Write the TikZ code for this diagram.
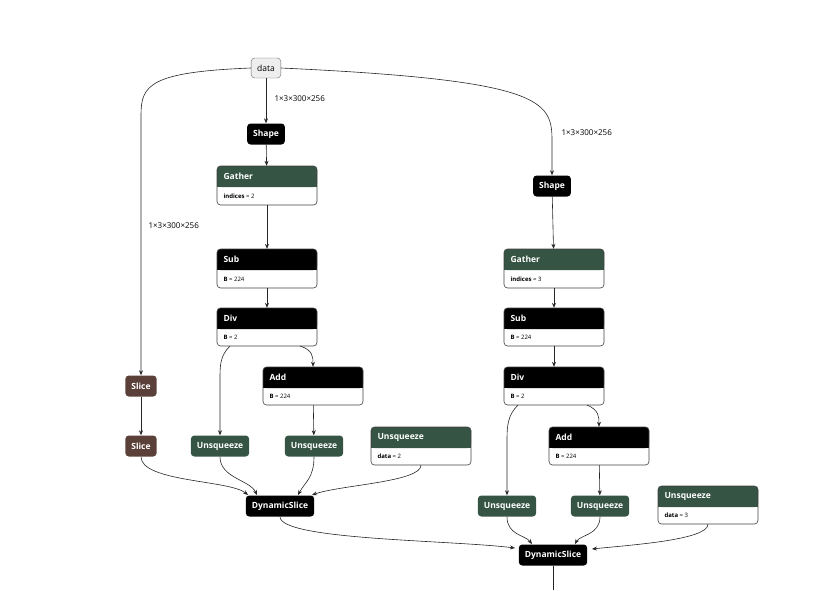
\documentclass[tikz,border=0pt]{standalone}
\usepackage{fontspec}
\setmainfont{Open Sans}
\usetikzlibrary{arrows.meta}
\definecolor{opgreen}{HTML}{355444}
\definecolor{opbrown}{HTML}{5A4038}
\definecolor{datagray}{HTML}{EEEEEE}
\tikzset{
  x=1pt,y=-1pt,
  edge/.style={-{Stealth[length=5pt,width=4pt]},line width=0.6pt,black!85},
  pill/.style={rounded corners=3.5pt,minimum height=21pt,inner xsep=6pt,text=white,font=\fontsize{8.5}{10}\selectfont\bfseries},
  blk/.style={pill,fill=black},
  grn/.style={pill,fill=opgreen},
  brn/.style={pill,fill=opbrown},
  lbl/.style={font=\fontsize{8}{10}\selectfont,anchor=west},
}
% \opbox{name}{cx}{ytop}{ybot}{color}{title}{attr}{val}
\newcommand{\opbox}[8]{%
  \node[minimum width=100pt,minimum height=#4-#3,inner sep=0pt] (#1) at (#2,{(#3+#4)/2}) {};
  \fill[#5,rounded corners=3.5pt] (#2-50,#3) rectangle (#2+50,#3+21);
  \fill[#5] (#2-50,#3+10) rectangle (#2+50,#3+21);
  \draw[black!75,rounded corners=3.5pt,line width=0.6pt] (#2-50,#3) rectangle (#2+50,#4);
  \node[anchor=west,text=white,font=\fontsize{8.5}{10}\selectfont\bfseries] at (#2-47,#3+10.5) {#6};
  \node[anchor=west,font=\fontsize{6}{7}\selectfont] at (#2-47,{(#3+21+#4)/2}) {\textbf{#7} = #8};
}
\begin{document}
\begin{tikzpicture}
\useasboundingbox (0,0) rectangle (825,590);
\node[pill,fill=datagray,draw=black!60,text=black,font=\fontsize{8.5}{10}\selectfont,minimum height=20pt] (data) at (266,68) {data};
\node[blk] (sh1) at (266,134) {Shape};
\opbox{g1}{267}{166}{205}{opgreen}{Gather}{indices}{2}
\opbox{s1}{267}{249}{288}{black}{Sub}{B}{224}
\opbox{d1}{267}{308}{346}{black}{Div}{B}{2}
\opbox{a1}{313}{367}{405}{black}{Add}{B}{224}
\node[brn] (sl1) at (141,386) {Slice};
\node[brn] (sl2) at (141,446) {Slice};
\node[grn] (u1) at (220,446) {Unsqueeze};
\node[grn] (u2) at (314,446) {Unsqueeze};
\opbox{u3}{421}{427}{465}{opgreen}{Unsqueeze}{data}{2}
\node[blk] (ds1) at (280,506) {DynamicSlice};
\node[blk] (sh2) at (552,186) {Shape};
\opbox{g2}{554}{249}{288}{opgreen}{Gather}{indices}{3}
\opbox{s2}{554}{308}{346}{black}{Sub}{B}{224}
\opbox{d2}{554}{367}{405}{black}{Div}{B}{2}
\opbox{a2}{599}{427}{465}{black}{Add}{B}{224}
\node[grn] (u4) at (507,506) {Unsqueeze};
\node[grn] (u5) at (600,506) {Unsqueeze};
\opbox{u6}{708}{486}{524}{opgreen}{Unsqueeze}{data}{3}
\node[blk] (ds2) at (553,555) {DynamicSlice};
\coordinate (out) at (553,590);

\draw[edge] (data) -- (sh1);
\node[lbl] at (271,99) {1×3×300×256};
\draw[edge] (data.west) .. controls (150,72) and (141,85) .. (141,115) -- (sl1.north);
\node[lbl] at (145,226) {1×3×300×256};
\draw[edge] (data.east) .. controls (540,80) and (552,100) .. (552,140) -- (sh2.north);
\node[lbl] at (558,133) {1×3×300×256};
\draw[edge] (sh1) -- (g1);
\draw[edge] (g1) -- (s1);
\draw[edge] (s1) -- (d1);
\draw[edge] (230,346) .. controls (220,356) and (220,365) .. (220,380) -- (u1.north);
\draw[edge] (300,346) .. controls (313,350) and (313,357) .. (a1.north);
\draw[edge] (a1) -- (u2);
\draw[edge] (sl1) -- (sl2);
\draw[edge] (sl2.south) .. controls (141,482) and (230,480) .. (248,495);
\draw[edge] (u1.south) .. controls (220,478) and (250,480) .. (257,495);
\draw[edge] (u2.south) .. controls (314,478) and (305,482) .. (298,495);
\draw[edge] (u3.south) .. controls (421,482) and (340,485) .. (312,495);
\draw[edge] (sh2) -- (g2);
\draw[edge] (g2) -- (s2);
\draw[edge] (s2) -- (d2);
\draw[edge] (518,405) .. controls (508,415) and (507,425) .. (507,440) -- (u4.north);
\draw[edge] (587,405) .. controls (599,410) and (599,417) .. (a2.north);
\draw[edge] (a2) -- (u5);
\draw[edge] (ds1.south) .. controls (280,540) and (450,540) .. (515,548);
\draw[edge] (u4.south) .. controls (507,535) and (525,535) .. (532,544);
\draw[edge] (u5.south) .. controls (600,535) and (580,535) .. (575,544);
\draw[edge] (u6.south) .. controls (708,540) and (630,545) .. (592,549);
\draw[line width=0.6pt,black!85] (ds2) -- (out);
\end{tikzpicture}
\end{document}
